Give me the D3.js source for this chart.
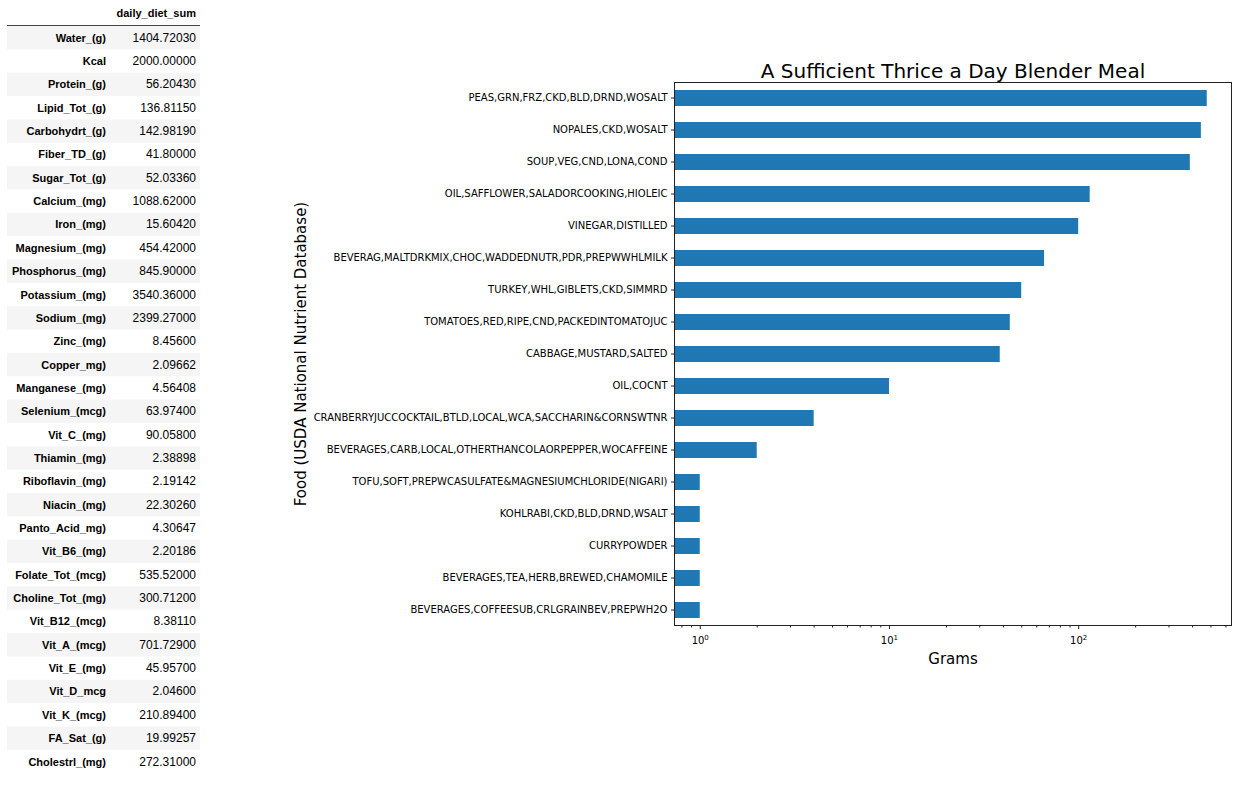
<!DOCTYPE html>
<html>
<head>
<meta charset="utf-8">
<script src="https://cdn.jsdelivr.net/npm/d3@7"></script>
<style>
  body { margin: 0; background: #fff; }
  svg { display: block; }
</style>
</head>
<body>
<div id="chart"></div>
<script>
// left table: nutrient totals
const nutrientNames = [
  "Water_(g)", "Kcal", "Protein_(g)", "Lipid_Tot_(g)", "Carbohydrt_(g)", "Fiber_TD_(g)",
  "Sugar_Tot_(g)", "Calcium_(mg)", "Iron_(mg)", "Magnesium_(mg)", "Phosphorus_(mg)",
  "Potassium_(mg)", "Sodium_(mg)", "Zinc_(mg)", "Copper_mg)", "Manganese_(mg)",
  "Selenium_(mcg)", "Vit_C_(mg)", "Thiamin_(mg)", "Riboflavin_(mg)", "Niacin_(mg)",
  "Panto_Acid_mg)", "Vit_B6_(mg)", "Folate_Tot_(mcg)", "Choline_Tot_(mg)", "Vit_B12_(mcg)",
  "Vit_A_(mcg)", "Vit_E_(mg)", "Vit_D_mcg", "Vit_K_(mcg)", "FA_Sat_(g)", "Cholestrl_(mg)"
];
const nutrientValues = [
  1404.7203, 2000.0, 56.2043, 136.8115, 142.9819, 41.8,
  52.0336, 1088.62, 15.6042, 454.42, 845.9,
  3540.36, 2399.27, 8.456, 2.09662, 4.56408,
  63.974, 90.058, 2.38898, 2.19142, 22.3026,
  4.30647, 2.20186, 535.52, 300.712, 8.3811,
  701.729, 45.957, 2.046, 210.894, 19.99257, 272.31
];
const tableHeader = "daily_diet_sum";

// bar chart: grams of each food
const foods = [
  "PEAS,GRN,FRZ,CKD,BLD,DRND,WOSALT",
  "NOPALES,CKD,WOSALT",
  "SOUP,VEG,CND,LONA,COND",
  "OIL,SAFFLOWER,SALADORCOOKING,HIOLEIC",
  "VINEGAR,DISTILLED",
  "BEVERAG,MALTDRKMIX,CHOC,WADDEDNUTR,PDR,PREPWWHLMILK",
  "TURKEY,WHL,GIBLETS,CKD,SIMMRD",
  "TOMATOES,RED,RIPE,CND,PACKEDINTOMATOJUC",
  "CABBAGE,MUSTARD,SALTED",
  "OIL,COCNT",
  "CRANBERRYJUCCOCKTAIL,BTLD,LOCAL,WCA,SACCHARIN&CORNSWTNR",
  "BEVERAGES,CARB,LOCAL,OTHERTHANCOLAORPEPPER,WOCAFFEINE",
  "TOFU,SOFT,PREPWCASULFATE&MAGNESIUMCHLORIDE(NIGARI)",
  "KOHLRABI,CKD,BLD,DRND,WSALT",
  "CURRYPOWDER",
  "BEVERAGES,TEA,HERB,BREWED,CHAMOMILE",
  "BEVERAGES,COFFEESUB,CRLGRAINBEV,PREPWH2O"
];
const grams = [478, 445, 389, 115, 100, 66, 50, 43.5, 38.5, 10, 4, 2, 1, 1, 1, 1, 1];
const majorTicks = [1, 10, 100];
const minorTicks = [0.8, 0.9, 2, 3, 4, 5, 6, 7, 8, 9, 20, 30, 40, 50, 60, 70, 80, 90, 200, 300, 400, 500, 600];

const width = 1255;
const height = 785;
const barColor = "#1f77b4";
const mplFont = "DejaVu Sans, sans-serif";
const tableFont = "Liberation Sans, Arial, Helvetica, sans-serif";

const svg = d3.select("#chart")
  .append("svg")
  .attr("width", width)
  .attr("height", height);

function drawTable() {
  const left = 7, right = 200;
  const top = 26, rowH = 23.35;
  const g = svg.append("g").attr("class", "table");

  g.append("text")
    .attr("x", 196)
    .attr("y", 17)
    .attr("text-anchor", "end")
    .style("font-family", tableFont)
    .style("font-size", "11px")
    .style("font-weight", "bold")
    .attr("fill", "#000")
    .text(tableHeader);

  g.append("line")
    .attr("x1", left).attr("x2", right)
    .attr("y1", 25.5).attr("y2", 25.5)
    .attr("stroke", "#444")
    .attr("stroke-width", 1);

  nutrientNames.forEach((name, i) => {
    const y0 = top + i * rowH;
    if (i % 2 === 0) {
      g.append("rect")
        .attr("x", left).attr("y", y0)
        .attr("width", right - left).attr("height", rowH)
        .attr("fill", "#f5f5f5");
    }
    g.append("text")
      .attr("x", 106)
      .attr("y", y0 + rowH / 2 + 4)
      .attr("text-anchor", "end")
      .style("font-family", tableFont)
      .style("font-size", "11px")
      .style("font-weight", "bold")
      .attr("fill", "#000")
      .text(name);
    g.append("text")
      .attr("x", 196)
      .attr("y", y0 + rowH / 2 + 4)
      .attr("text-anchor", "end")
      .style("font-family", tableFont)
      .style("font-size", "12px")
      .attr("fill", "#000")
      .text(nutrientValues[i].toFixed(5));
  });
}

function drawChart() {
  const [m_top, m_right, m_bottom, m_left] = [82, 1232, 626, 674]; // axes box edges

  const x = d3.scaleLog()
    .domain([0.731, 650])
    .range([m_left, m_right]);

  const y = d3.scaleBand()
    .domain(foods)
    .range([m_top, m_bottom])
    .paddingInner(0.5)
    .paddingOuter(0.25);

  // bars start at the left edge (log scale clips the zero base)
  svg.append("g")
    .selectAll("rect")
    .data(foods)
    .join("rect")
    .attr("x", m_left)
    .attr("y", (d) => y(d))
    .attr("width", (d, i) => x(grams[i]) - m_left)
    .attr("height", y.bandwidth())
    .attr("fill", barColor);

  // frame
  svg.append("rect")
    .attr("x", m_left + 0.5)
    .attr("y", m_top + 0.5)
    .attr("width", m_right - m_left - 1)
    .attr("height", m_bottom - m_top - 1)
    .attr("fill", "none")
    .attr("stroke", "#222")
    .attr("stroke-width", 1);

  // y axis
  const yAxis = svg.append("g")
    .attr("transform", `translate(${m_left + 0.5}, 0)`)
    .call(d3.axisLeft(y).tickSize(3.5).tickPadding(3.5));
  yAxis.select(".domain").remove();
  yAxis.selectAll("line").attr("stroke", "#222");
  yAxis.selectAll("text")
    .style("font-family", mplFont)
    .style("font-size", "10px")
    .attr("fill", "#000");

  // x axis minor ticks
  const xMinor = svg.append("g")
    .attr("transform", `translate(0, ${m_bottom - 0.5})`)
    .call(d3.axisBottom(x).tickValues(minorTicks).tickSize(2).tickFormat(""));
  xMinor.select(".domain").remove();
  xMinor.selectAll("line").attr("stroke", "#222");

  // x axis major ticks, labelled 10^n
  const xMajor = svg.append("g")
    .attr("transform", `translate(0, ${m_bottom - 0.5})`)
    .call(d3.axisBottom(x).tickValues(majorTicks).tickSize(3.5).tickPadding(3.5).tickFormat(""));
  xMajor.select(".domain").remove();
  xMajor.selectAll("line").attr("stroke", "#222");
  xMajor.selectAll("text").remove();
  xMajor.selectAll(".tick")
    .append("text")
    .attr("y", 18)
    .attr("text-anchor", "middle")
    .style("font-family", mplFont)
    .style("font-size", "10px")
    .attr("fill", "#000")
    .each(function (d) {
      const t = d3.select(this);
      t.append("tspan").text("10");
      t.append("tspan")
        .attr("dy", "-0.45em")
        .style("font-size", "7px")
        .text(Math.round(Math.log10(d)));
    });

  // title and axis labels
  svg.append("text")
    .attr("x", (m_left + m_right) / 2)
    .attr("y", 78)
    .attr("text-anchor", "middle")
    .style("font-family", mplFont)
    .style("font-size", "20px")
    .attr("fill", "#000")
    .text("A Sufficient Thrice a Day Blender Meal");

  svg.append("text")
    .attr("x", (m_left + m_right) / 2)
    .attr("y", 664)
    .attr("text-anchor", "middle")
    .style("font-family", mplFont)
    .style("font-size", "15px")
    .attr("fill", "#000")
    .text("Grams");

  svg.append("text")
    .attr("transform", "rotate(-90)")
    .attr("x", -(m_top + m_bottom) / 2)
    .attr("y", 306)
    .attr("text-anchor", "middle")
    .style("font-family", mplFont)
    .style("font-size", "15px")
    .attr("fill", "#000")
    .text("Food (USDA National Nutrient Database)");
}

drawTable();
drawChart();
</script>
</body>
</html>
